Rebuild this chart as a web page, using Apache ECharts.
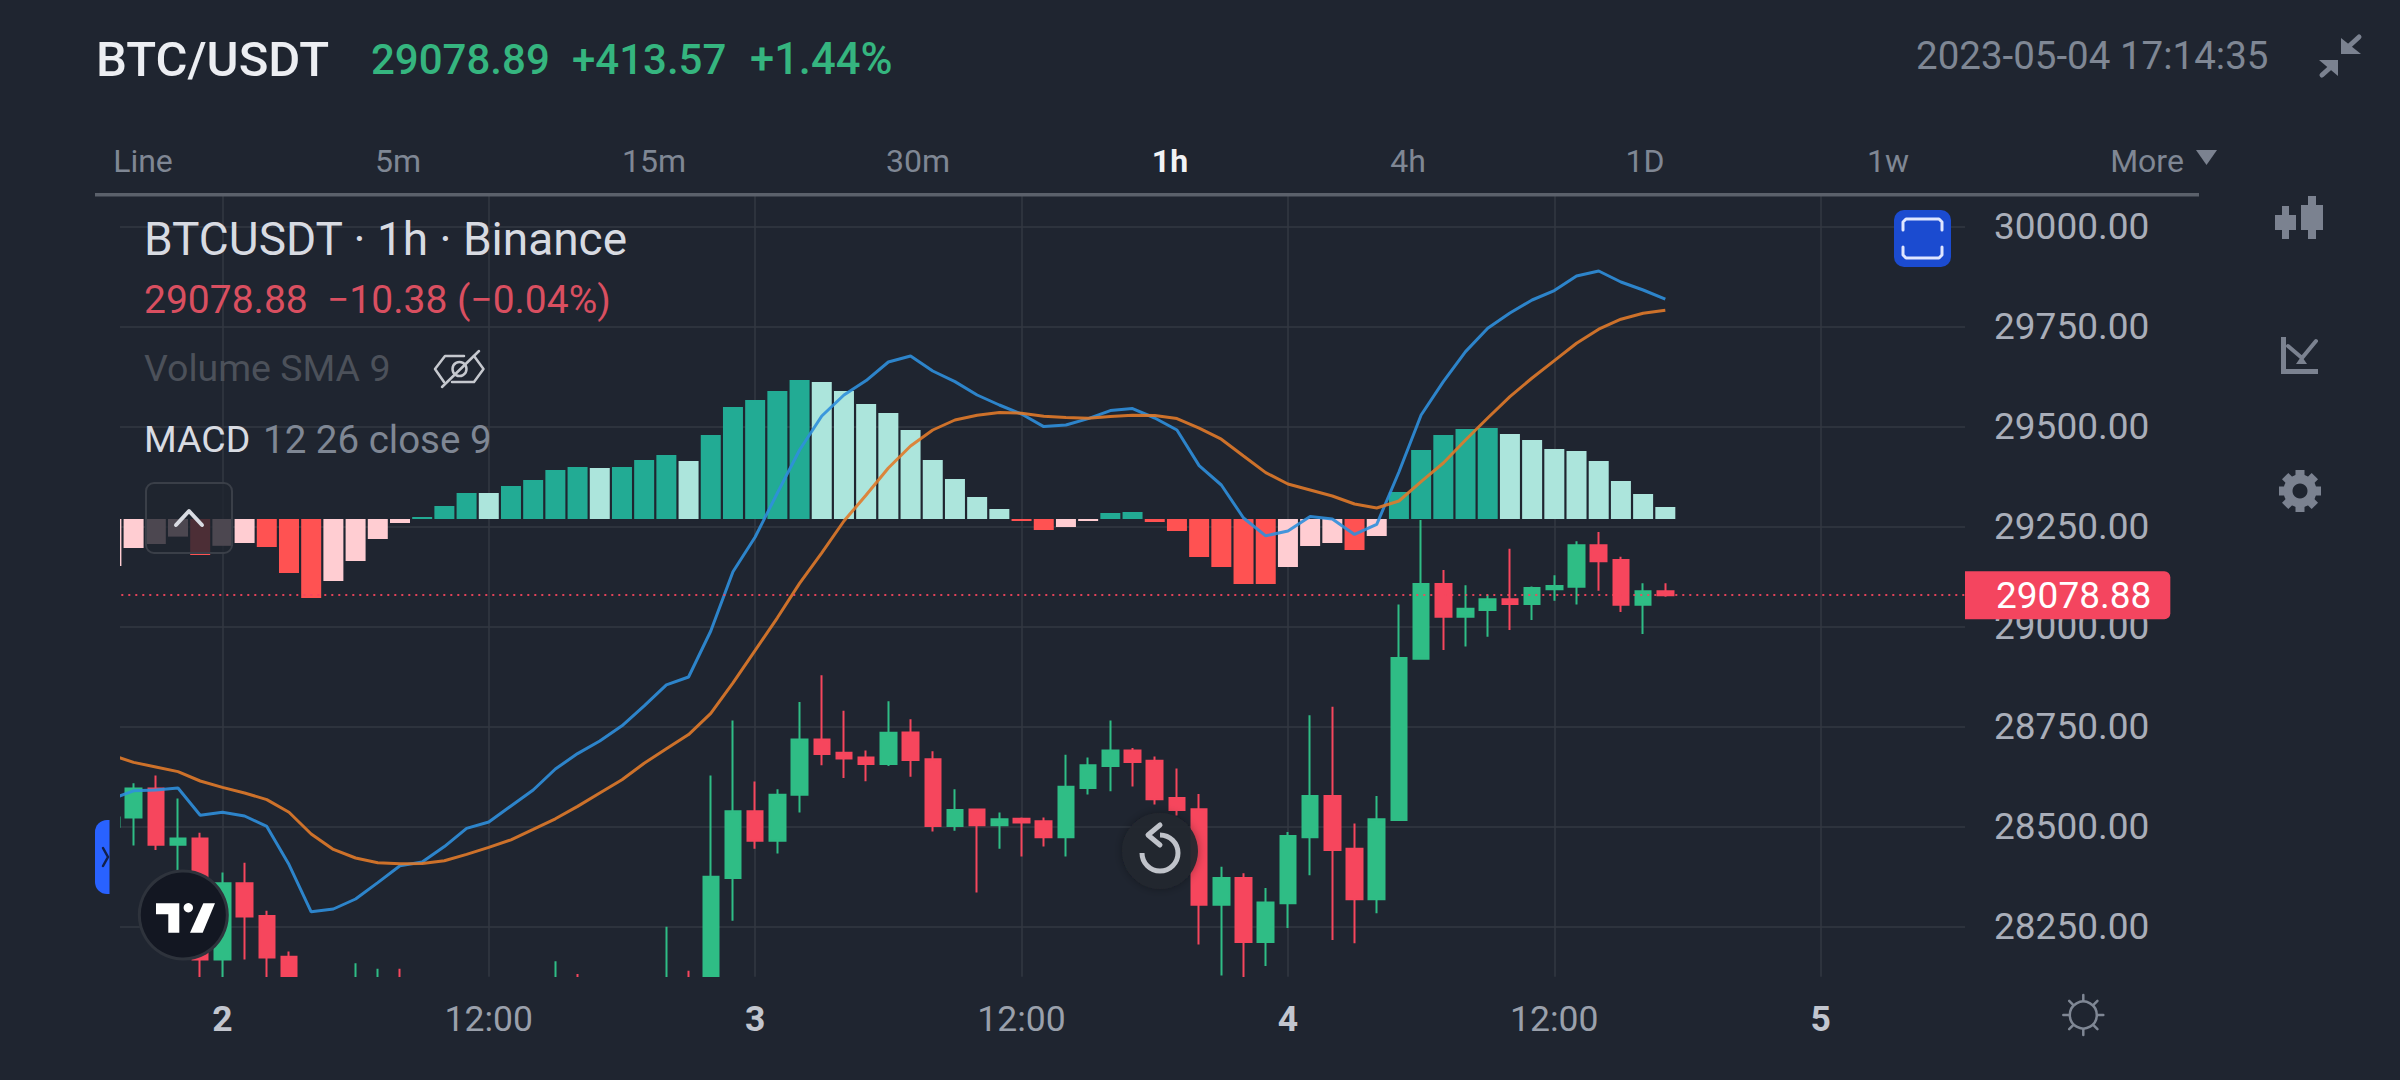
<!DOCTYPE html>
<html>
<head>
<meta charset="utf-8">
<title>BTC/USDT</title>
<script src="https://cdn.jsdelivr.net/npm/echarts@6/dist/echarts.min.js"></script>
<style>
html, body { margin: 0; padding: 0; background: #1f2530; }
#chart { width: 2400px; height: 1080px; }
</style>
</head>
<body>
<div id="chart"></div>
<script>
// first 5 bars fall on May 1st, k = 0 is May 2nd 00:00
const xTickStamps = ['05-02 00', '05-02 12', '05-03 00', '05-03 12', '05-04 00', '05-04 12', '05-05 00'];
const xTickLabels = ['2', '12:00', '3', '12:00', '4', '12:00', '5'];
const priceTicks = [28250, 28500, 28750, 29000, 29250, 29500, 29750, 30000];
const lastPrice = 29078.88;

const opens = [28500, 28523, 28596, 28455, 28471, 28168, 28359, 28277, 28175, 28060, 27985,
    28010, 28060, 28085, 28040, 28070, 28055, 28075, 28060, 28080, 28070,
    28095, 28080, 28090, 28075, 28095, 28110, 28090, 28372, 28539, 28465,
    28580, 28718, 28685, 28673, 28657, 28736, 28669, 28502, 28543, 28504,
    28520, 28514, 28474, 28597, 28652, 28691, 28665, 28572, 28544, 28305,
    28372, 28212, 28309, 28474, 28577, 28445, 28319, 28517, 28920, 29107,
    29025, 29042, 29069, 29057, 29094, 29100, 29204, 29167, 29055, 29089];
const closes = [28523, 28596, 28455, 28471, 28168, 28359, 28276, 28173, 28060, 27985, 28010,
    28060, 28085, 28040, 28070, 28055, 28075, 28060, 28080, 28070, 28095,
    28080, 28090, 28075, 28095, 28110, 28090, 28375, 28539, 28465, 28580,
    28718, 28682, 28671, 28657, 28735, 28667, 28502, 28542, 28504, 28519,
    28511, 28474, 28600, 28654, 28691, 28662, 28569, 28542, 28305, 28372,
    28212, 28311, 28477, 28577, 28442, 28319, 28519, 28922, 29107, 29025,
    29045, 29069, 29057, 29097, 29102, 29204, 29164, 29055, 29089, 29078.88];
const lows = [28470, 28453, 28442, 28360, 28110, 28110, 28168, 28110, 28020, 27950, 27960,
    27990, 28030, 28010, 28010, 28020, 28030, 28030, 28040, 28040, 28050,
    28060, 28060, 28050, 28050, 28070, 28060, 28070, 28265, 28445, 28433,
    28536, 28654, 28622, 28614, 28652, 28625, 28488, 28490, 28336, 28445,
    28426, 28451, 28426, 28581, 28589, 28601, 28556, 28528, 28206, 28128,
    28120, 28152, 28247, 28379, 28217, 28209, 28284, 28517, 28920, 28942,
    28951, 28975, 28992, 29017, 29065, 29056, 29090, 29037, 28982, 29075];
const highs = [28540, 28609, 28628, 28571, 28485, 28386, 28410, 28290, 28188, 28100, 28080,
    28159, 28145, 28145, 28110, 28105, 28100, 28115, 28110, 28120, 28164,
    28132, 28115, 28120, 28120, 28250, 28140, 28628, 28766, 28613, 28594,
    28812, 28879, 28790, 28691, 28814, 28769, 28689, 28594, 28546, 28536,
    28523, 28523, 28680, 28673, 28766, 28697, 28676, 28646, 28582, 28400,
    28384, 28347, 28487, 28779, 28800, 28508, 28577, 29056, 29267, 29142,
    29104, 29080, 29195, 29101, 29129, 29214, 29237, 29175, 29109, 29109];

const macdHist = [-23.5, -14.5, -12.5, -8.8, -18, -13.4, -12, -14, -27, -39.5, -31,
    -21, -10, -2, 1, 6.5, 13, 13, 16.5, 19.5, 24.5,
    26, 25.5, 26, 29.5, 32, 29, 42, 56, 59.5, 64,
    69.5, 68.5, 64, 57.5, 53, 44.5, 29.5, 20, 11, 5,
    -1, -5.5, -4, -1, 3, 3.5, -1.5, -6, -19, -24,
    -32.5, -32.5, -24, -13.5, -12, -15.5, -8.5, 13.5, 34.5, 42,
    45, 45.5, 42.5, 39.5, 35, 34, 29, 19, 12.5, 6];
// G strong green, g pale green, R strong red, r pale red
const macdHistTone = 'rrrrRrrRRRrrrr'.split('')
    .concat('GGGgGGGGgGGGgGGGGGggggggggg'.split(''), 'RRrrGGRRRRRRrrrRr'.split(''), 'GGGGGgggggggg'.split(''));
const macdLine = [-140, -135.9, -135.5, -134.5, -148.1, -146.6, -148.5, -153.7, -172.8, -196.4, -195,
    -190, -181.8, -173.4, -171.5, -163.8, -154.7, -151.5, -143.5, -135.5, -125,
    -117.3, -111, -103.4, -93.4, -82.9, -79, -56, -26.4, -9, 13,
    34.5, 51.5, 62, 69.2, 78.5, 81.5, 74, 68.7, 62, 57,
    52.5, 46.2, 47, 50.2, 54.2, 55.2, 50.5, 44.5, 26.7, 17,
    0.5, -8.4, -6, 1.2, 0, -7.7, -2.7, 23.5, 52, 68.7,
    83.7, 95.4, 103, 109.5, 114.2, 121.5, 124, 118.5, 114.5, 109.9];
const signalLine = [-118, -121.7, -124, -126.3, -131, -134.2, -137, -140.3, -146.6, -157.5, -165.2,
    -169.5, -171.9, -172.4, -172.3, -170.9, -167.7, -164.2, -160.4, -155.2, -149.9,
    -143.7, -137, -130.4, -122.1, -114.9, -107.8, -97.2, -81.9, -65.7, -49.4,
    -32.2, -16.9, -1, 12, 25.5, 36.5, 44.5, 49.5, 51.9, 53.2,
    52.9, 51.4, 50.7, 50.4, 51.2, 51.9, 51.7, 50.2, 45.4, 39.9,
    31.5, 23.2, 17.5, 14.5, 11.5, 7.5, 5.5, 9, 18.7, 28,
    39.5, 50.5, 61.2, 70.5, 79.2, 87.9, 94.9, 99.9, 102.9, 104.4];

const tabs = ['Line', '5m', '15m', '30m', '1h', '4h', '1D', '1w', 'More'];
const tabCenters = [143, 398, 654, 918, 1170, 1408, 1645, 1888, 2147];

const toneColors = { G: '#22ab94', g: '#ace5dc', R: '#ff5252', r: '#ffcdd2' };
const FONT = 'Roboto, "Noto Sans", sans-serif';
const BG = '#1f2530';
const GREY = '#7f8794';
const ICON = '#7b8290';

var stamps = [];
for (var k = -5; k <= 78; k++) {
    var day = 2 + Math.floor(k / 24);
    var hour = ((k % 24) + 24) % 24;
    stamps.push('05-0' + day + ' ' + (hour < 10 ? '0' : '') + hour);
}
const isTick = (i, v) => xTickStamps.indexOf(v) >= 0;

const candles = opens.map((o, i) => [o, closes[i], lows[i], highs[i]]);
const histBars = macdHist.map((v, i) => ({ value: v, itemStyle: { color: toneColors[macdHistTone[i]] } }));

function txt(x, y, text, size, fill, extra) {
    return {
        type: 'text', z: 20,
        style: Object.assign({
            x: x, y: y, text: text, fontSize: size, fontFamily: FONT, fill: fill,
            textAlign: 'left', textVerticalAlign: 'middle'
        }, extra || {})
    };
}
function poly(points, fill) {
    return { type: 'polygon', z: 20, shape: { points: points }, style: { fill: fill } };
}
function stroke(points, color, width) {
    return { type: 'polyline', z: 20, shape: { points: points }, style: { stroke: color, lineWidth: width, fill: null, lineCap: 'round', lineJoin: 'round' } };
}
function rect(x, y, w, h, r, fill, extra) {
    return { type: 'rect', z: 20, shape: { x: x, y: y, width: w, height: h, r: r }, style: Object.assign({ fill: fill }, extra || {}) };
}
function circle(cx, cy, r, style) {
    return { type: 'circle', z: 20, shape: { cx: cx, cy: cy, r: r }, style: style };
}

function chrome() {
    var g = [];
    // candlesticks are not cut at the grid edge, mask what hangs out
    var maskBottom = rect(0, 977, 1975, 103, 0, BG);
    maskBottom.z = 5;
    var maskLeft = rect(0, 197, 120, 790, 0, BG);
    maskLeft.z = 12;
    g.push(maskBottom, maskLeft);
    // header
    g.push(txt(96, 59, 'BTC/USDT', 49, '#eceef2', { fontWeight: 500 }));
    g.push(txt(371, 59, '29078.89', 42, '#35b57f', { fontWeight: 500 }));
    g.push(txt(572, 59, '+413.57', 42, '#35b57f', { fontWeight: 500 }));
    g.push(txt(750, 59, '+1.44%', 43.5, '#35b57f', { fontWeight: 500 }));
    g.push(txt(1916, 55, '2023-05-04 17:14:35', 38.5, GREY));
    // collapse icon
    g.push(poly([[2341, 38], [2341, 54], [2361, 54]], ICON), stroke([[2347, 48], [2359, 37]], ICON, 5));
    g.push(poly([[2338, 60], [2319, 60], [2338, 76]], ICON), stroke([[2332, 66], [2322, 75]], ICON, 5));
    // interval tabs
    tabs.forEach(function (t, i) {
        var active = t === '1h';
        g.push(txt(tabCenters[i], 161, t, 32, active ? '#f2f3f5' : GREY, { textAlign: 'center', fontWeight: active ? 700 : 400 }));
    });
    g.push(poly([[2196, 150], [2217, 150], [2206.5, 165]], ICON));
    g.push(rect(95, 193, 2104, 3.5, 0, '#5b616b'));
    // legend
    g.push(txt(144, 239, 'BTCUSDT · 1h · Binance', 46, '#d8dbe2'));
    g.push(txt(144, 300, '29078.88  −10.38 (−0.04%)', 39, '#d94f60'));
    g.push(txt(144, 368, 'Volume SMA 9', 37.5, '#4c515a'));
    g.push(stroke([[444, 382], [435, 369], [445, 356], [464, 356]], '#c5c8ce', 2.5));
    g.push(stroke([[452, 382], [474, 382], [483.5, 369], [474, 356]], '#c5c8ce', 2.5));
    g.push(circle(459.5, 369, 7, { fill: null, stroke: '#c5c8ce', lineWidth: 2.5 }));
    g.push(stroke([[479, 351], [442, 387]], '#c5c8ce', 2.5));
    g.push(txt(144, 439, 'MACD', 37.5, '#d8dbe2'));
    g.push(txt(263, 439, '12 26 close 9', 38.5, GREY));
    // collapse legend button
    g.push(rect(146, 483, 86, 70, 8, 'rgba(31,37,48,0.8)', { stroke: '#3a3f48', lineWidth: 2 }));
    g.push(stroke([[176, 525], [189, 511], [202, 525]], '#d8dbe2', 4));
    // blue screenshot button
    g.push(rect(1894, 210, 57, 57, 10, '#1b4bd0'));
    g.push(stroke([[1903, 230], [1903, 222], [1906, 219], [1939, 219], [1942, 222], [1942, 230]], '#dfe6ff', 3));
    g.push(stroke([[1903, 247], [1903, 255], [1906, 258], [1939, 258], [1942, 255], [1942, 247]], '#dfe6ff', 3));
    // side toolbar, candle icon
    g.push(rect(2275, 215, 21, 15, 0, ICON), rect(2282, 206, 7, 33, 0, ICON));
    g.push(rect(2301, 205, 22, 25, 0, ICON), rect(2308, 196, 8, 43, 0, ICON));
    // indicator icon
    g.push(rect(2281, 337, 5, 37, 0, ICON), rect(2281, 369, 37, 5, 0, ICON));
    g.push(stroke([[2288, 346], [2302, 358], [2316, 341]], ICON, 4));
    g.push(poly([[2296, 364], [2307, 364], [2301.5, 356]], ICON));
    // gear icon
    for (var i = 0; i < 8; i++) {
        g.push({ type: 'rect', z: 20, shape: { x: -4.5, y: -21, width: 9, height: 10 }, x: 2300, y: 491, rotation: i * Math.PI / 4, style: { fill: ICON } });
    }
    g.push(circle(2300, 491, 12, { fill: null, stroke: ICON, lineWidth: 9 }));
    // left handle and logo
    g.push(rect(95, 820, 14.5, 74, [12, 0, 0, 12], '#2962ff'));
    g.push(stroke([[103, 848], [108, 857], [103, 866]], '#12204a', 2.5));
    g.push(circle(183.3, 915, 44, { fill: '#131722', stroke: '#2e333c', lineWidth: 3 }));
    g.push(poly([[156, 903.3], [179.3, 903.3], [179.3, 932.7], [168.3, 932.7], [168.3, 914.3], [156, 914.3]], '#ffffff'));
    g.push(circle(188.3, 907.7, 4.7, { fill: '#ffffff' }));
    g.push(poly([[203.3, 903.3], [215, 903.3], [202.7, 932.7], [190, 932.7]], '#ffffff'));
    // go to realtime button
    g.push(circle(1160, 851, 38, { fill: 'rgba(35,39,47,0.94)', shadowBlur: 10, shadowColor: 'rgba(0,0,0,0.35)' }));
    g.push({ type: 'arc', z: 21, shape: { cx: 1160, cy: 853, r: 18, startAngle: -Math.PI / 2, endAngle: Math.PI, clockwise: true }, style: { stroke: '#c0c3ca', lineWidth: 5, fill: null } });
    g.push(stroke([[1160, 825], [1148, 835], [1160, 845]], '#c0c3ca', 5));
    // theme icon
    g.push(circle(2083.3, 1015, 13.5, { fill: null, stroke: GREY, lineWidth: 2.5 }));
    for (var j = 0; j < 8; j++) {
        var a = j * Math.PI / 4;
        g.push(stroke([[2083.3 + 14 * Math.cos(a), 1015 + 14 * Math.sin(a)], [2083.3 + 20 * Math.cos(a), 1015 + 20 * Math.sin(a)]], GREY, 2.5));
    }
    return g;
}

const chart = echarts.init(document.getElementById('chart'), null, { renderer: 'svg', width: 2400, height: 1080 });
chart.setOption({
    animation: false,
    backgroundColor: BG,
    textStyle: { fontFamily: FONT },
    grid: { left: 100.3, right: 435, top: 194.8, bottom: 103.2 },
    xAxis: [
        {
            type: 'category',
            data: stamps,
            boundaryGap: true,
            axisLine: { show: false },
            axisTick: { show: false },
            axisLabel: { show: false },
            splitLine: { show: true, alignWithLabel: true, interval: isTick, lineStyle: { color: '#333842', width: 1.5 } }
        },
        {
            // labels only, sits above the bottom mask
            type: 'category',
            position: 'bottom',
            z: 25,
            data: stamps,
            boundaryGap: true,
            axisLine: { show: false },
            axisTick: { show: false },
            splitLine: { show: false },
            axisLabel: {
                interval: isTick,
                margin: 24,
                fontSize: 35.5,
                fontFamily: FONT,
                color: '#9aa0ab',
                formatter: function (v) {
                    var t = xTickStamps.indexOf(v);
                    var text = t >= 0 ? xTickLabels[t] : '';
                    return text.length === 1 ? '{d|' + text + '}' : text;
                },
                rich: { d: { fontSize: 35.5, fontWeight: 700, color: '#c2c6cf', fontFamily: FONT } }
            }
        }
    ],
    yAxis: [
        {
            type: 'value',
            position: 'right',
            min: 28125,
            max: 30080,
            axisLine: { show: false },
            axisTick: { show: false, customValues: priceTicks },
            axisLabel: {
                customValues: priceTicks,
                margin: 29,
                fontSize: 37,
                fontFamily: FONT,
                color: '#a9aeb9',
                formatter: v => v.toFixed(2)
            },
            splitLine: { show: true, lineStyle: { color: '#333842', width: 1.5 } }
        },
        { type: 'value', show: false, min: -228.9, max: 162.1, splitLine: { show: false } }
    ],
    series: [
        {
            type: 'candlestick',
            data: candles,
            barWidth: 16,
            z: 2,
            itemStyle: { color: '#2fbd85', color0: '#f6465d', borderColor: '#2fbd85', borderColor0: '#f6465d', borderWidth: 2 },
            markLine: {
                silent: true,
                symbol: 'none',
                z: 10,
                data: [{ yAxis: lastPrice }],
                lineStyle: { color: 'rgba(246,70,93,0.9)', width: 2, type: [2, 5] },
                label: {
                    position: 'end',
                    distance: 0,
                    formatter: lastPrice.toFixed(2),
                    fontSize: 37,
                    fontFamily: FONT,
                    color: '#ffffff',
                    backgroundColor: '#f4455f',
                    padding: [6, 19, 6, 31],
                    lineHeight: 36,
                    borderRadius: [0, 6, 6, 0]
                }
            }
        },
        { type: 'bar', name: 'Histogram', yAxisIndex: 1, data: histBars, barWidth: 20, z: 3 },
        { type: 'line', name: 'MACD', yAxisIndex: 1, data: macdLine, symbol: 'none', z: 4, lineStyle: { color: '#2f8fdc', width: 3, opacity: 0.9 } },
        { type: 'line', name: 'Signal', yAxisIndex: 1, data: signalLine, symbol: 'none', z: 4, lineStyle: { color: '#e07a2a', width: 3, opacity: 0.9 } }
    ],
    graphic: { elements: chrome() }
});
</script>
</body>
</html>
